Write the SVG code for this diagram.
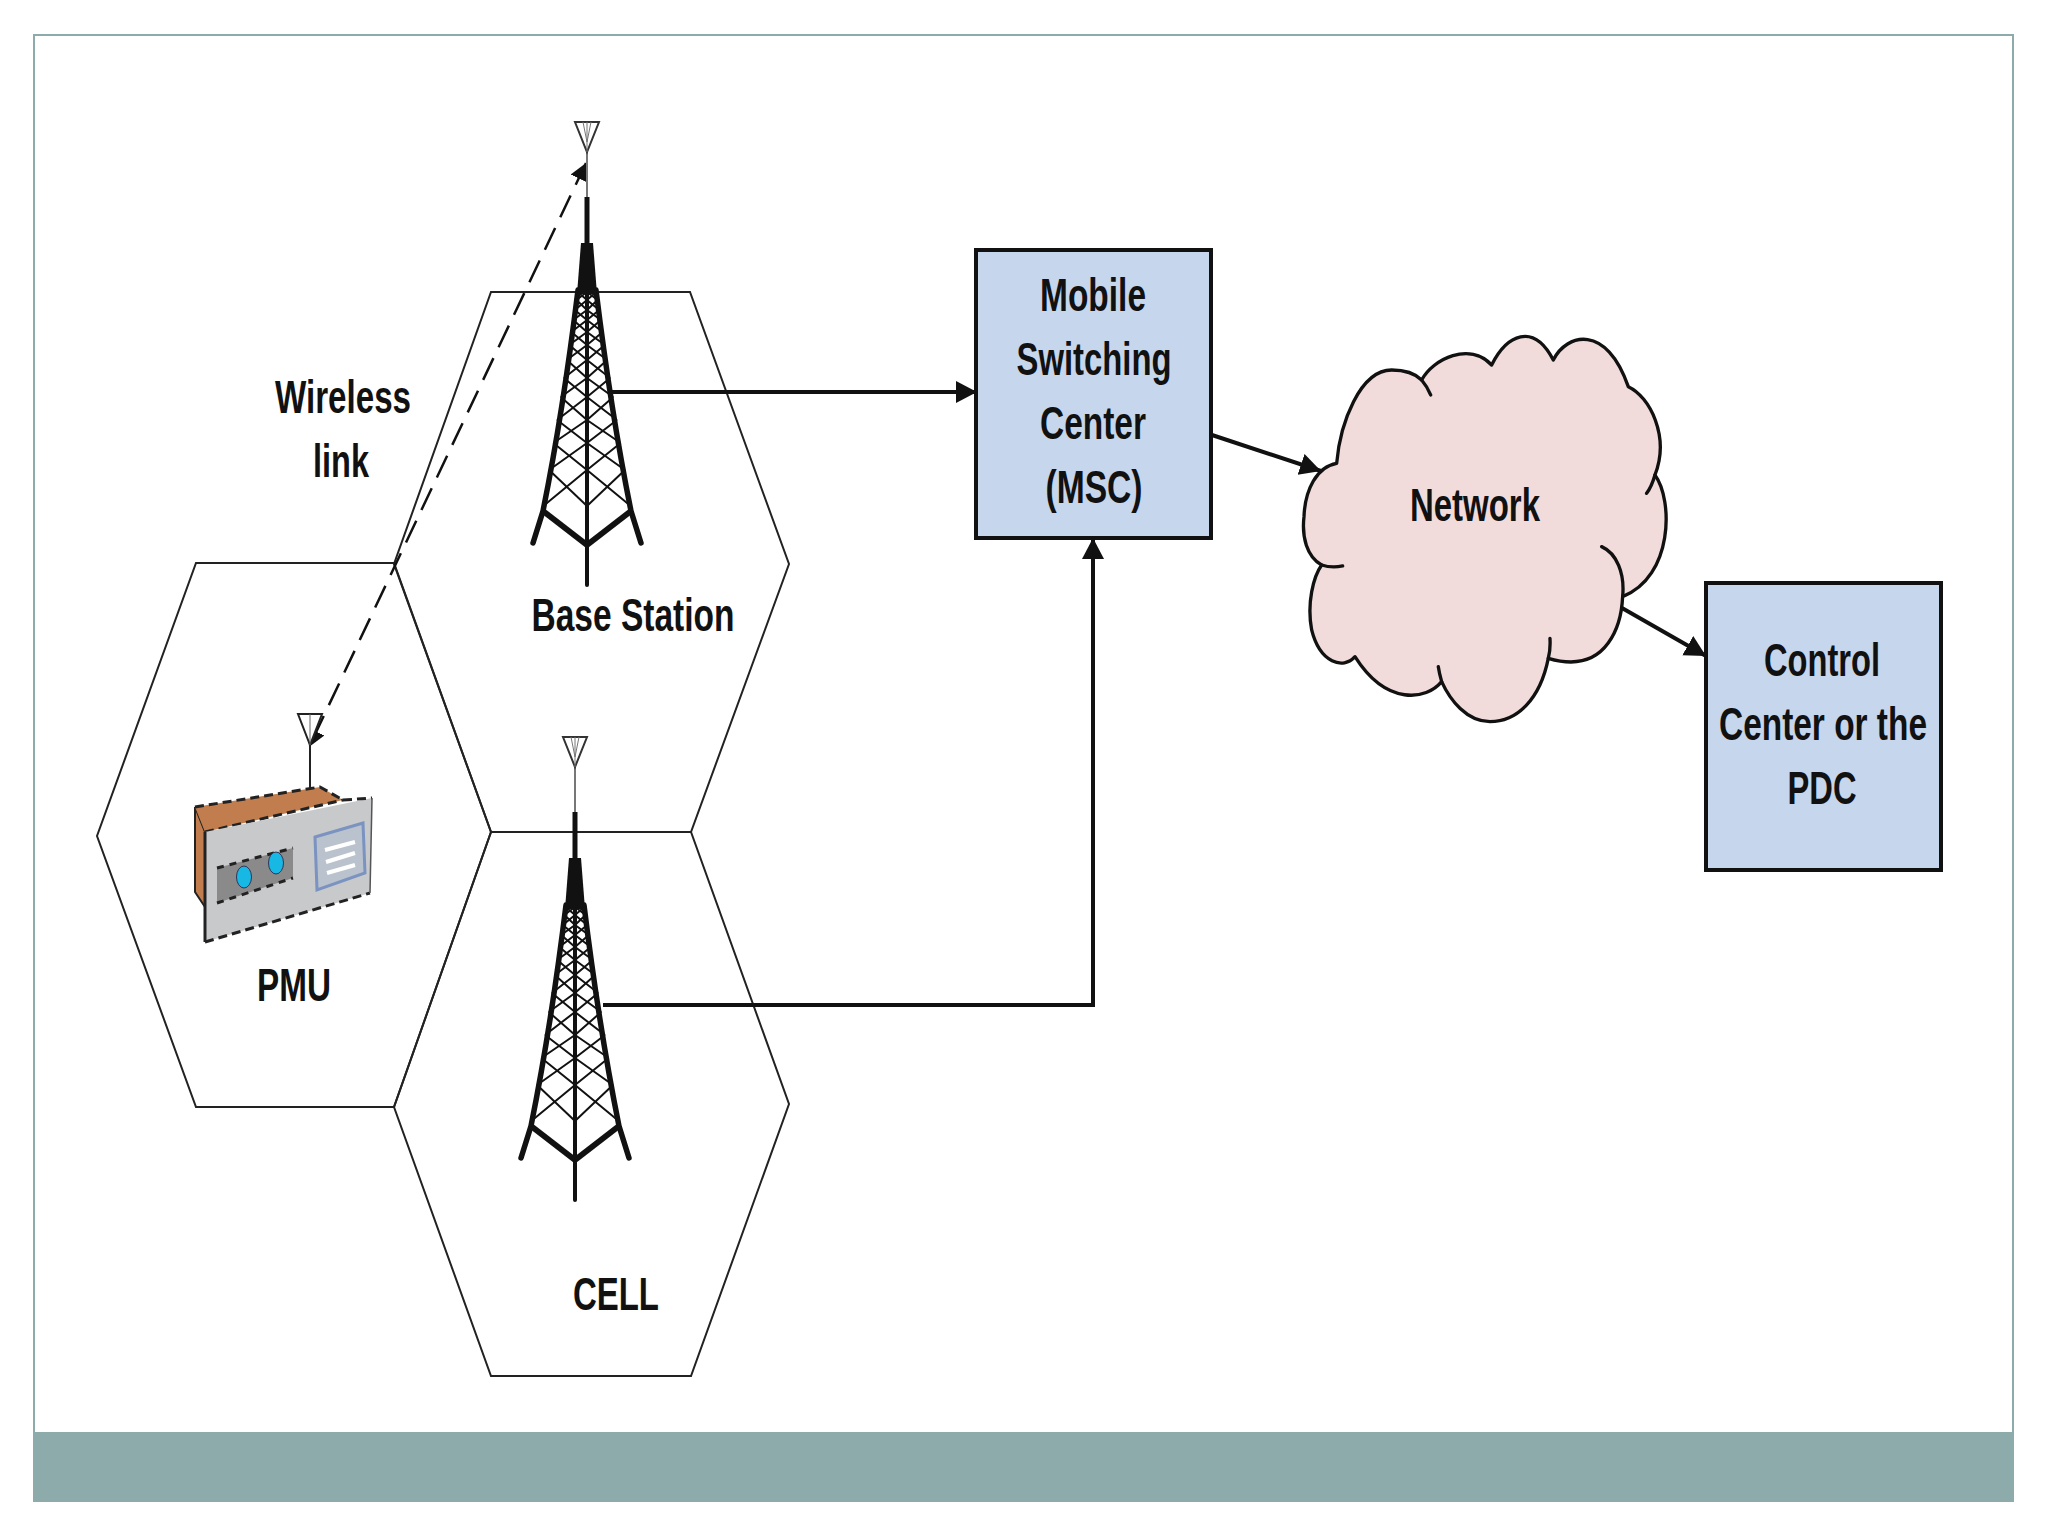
<svg xmlns="http://www.w3.org/2000/svg" xmlns:xlink="http://www.w3.org/1999/xlink" width="2048" height="1536" viewBox="0 0 2048 1536">
<style>
.t{font-family:"Liberation Sans",Arial,sans-serif;font-weight:700;font-size:47px;fill:#111;text-anchor:middle}
.hex{fill:none;stroke:#222;stroke-width:2}
.box{fill:#c6d6ec;stroke:#111;stroke-width:4}
.con{fill:none;stroke:#111;stroke-width:4}
.dash{fill:none;stroke:#111;stroke-width:2.500;stroke-dasharray:24 12}
</style>
<defs>
<marker id="ah" markerUnits="userSpaceOnUse" markerWidth="24" markerHeight="24" refX="21" refY="11" orient="auto-start-reverse"><path d="M0 0L21 11L0 22Z" fill="#111"/></marker>
<marker id="ad" markerUnits="userSpaceOnUse" markerWidth="20" markerHeight="20" refX="17" refY="9" orient="auto-start-reverse"><path d="M0 0L17 9L0 18Z" fill="#111"/></marker>
<g id="lat">
<path fill="none" stroke="#111" stroke-width="2" d="M-43.7 384L0 348M0 384L-37.9 348M-37.9 348L0 321M0 348L-33.6 321M-33.6 321L0 298M0 321L-29.9 298M-29.9 298L0 275M0 298L-26.2 275M-26.2 275L0 256M0 275L-23.1 256M-23.1 256L0 238M0 256L-20.2 238M-20.2 238L0 223M0 238L-17.8 223M-17.8 223L0 210M0 223L-15.7 210M-15.7 210L0 198M0 210L-13.8 198M-13.8 198L0 188M0 198L-12.2 188M-12.2 188L0 178M0 188L-10.6 178M-10.6 178L0 170M0 178L-9.3 170"/>
<path fill="none" stroke="#111" stroke-width="5.500" stroke-linecap="round" d="M-9 168Q-24 290-44 389L-54 421"/>
<path fill="none" stroke="#111" stroke-width="6" d="M-44 389L0 423"/>
</g>
<g id="tower">
<use xlink:href="#lat" href="#lat"/>
<use xlink:href="#lat" href="#lat" transform="scale(-1 1)"/>
<path d="M0 165V463" stroke="#111" stroke-width="4" stroke-linecap="round"/>
<path d="M-6 121H6L10 172H-10Z" fill="#111"/>
<path d="M0 75V121" stroke="#111" stroke-width="5"/>
<path d="M0 30V75" stroke="#777" stroke-width="2"/>
<path d="M-12 0H12L0 30Z" fill="#fff" stroke="#333" stroke-width="2"/>
<path d="M0 0V30M-4 0L0 20M4 0L0 20" stroke="#777" stroke-width="1" fill="none"/>
</g>
</defs>
<rect width="2048" height="1536" fill="#fff"/>
<rect x="34" y="35" width="1979" height="1466" fill="none" stroke="#8cabaa" stroke-width="2"/>
<rect id="band" x="33" y="1432" width="1980" height="69" fill="#8cabaa"/>
<g id="cell-top"><path class="hex" d="M491 292H690L789 564L691 832H491L394 564Z"/></g>
<g id="cell-left"><path class="hex" d="M196 563H394L491 832L394 1107H196L97 836Z"/></g>
<g id="cell-bottom"><path class="hex" d="M491 832H691L789 1104L691 1376H491L394 1107Z"/></g>
<g id="connectors">
<path class="con" d="M610 392H977" marker-end="url(#ah)"/>
<path class="con" d="M603 1005H1093V538" marker-end="url(#ah)"/>
<path class="con" d="M1212 435L1321 471" marker-end="url(#ah)"/>
<path class="con" d="M1622 608L1706 656" marker-end="url(#ah)"/>
<path class="dash" d="M586 163L309 747" marker-start="url(#ad)" marker-end="url(#ad)"/>
</g>
<g id="tower-1"><use xlink:href="#tower" href="#tower" transform="translate(587 122)"/></g>
<g id="tower-2"><use xlink:href="#tower" href="#tower" transform="translate(575 737)"/></g>
<g id="pmu">
<path d="M310 745V788" stroke="#222" stroke-width="2"/>
<path d="M298 714H322L310 745Z" fill="#fff" stroke="#222" stroke-width="2"/>
<path d="M310 714V745" stroke="#666" stroke-width="1"/>
<path d="M195 807L205 832V907L195 892Z" fill="#c17d4e" stroke="#222" stroke-width="2"/>
<path d="M195 807L320 787L343 800L205 832Z" fill="#c17d4e"/>
<path d="M195 807L320 787L343 800M205 832L343 800" fill="none" stroke="#222" stroke-width="3" stroke-dasharray="9 5"/>
<path d="M205 832L372 798L370 893L205 942Z" fill="#c8c9cb"/>
<path d="M343 800L372 798M205 942L370 893" fill="none" stroke="#222" stroke-width="3" stroke-dasharray="9 5"/>
<path d="M205 832V942" fill="none" stroke="#222" stroke-width="3"/>
<path d="M372 798L370 893" fill="none" stroke="#555" stroke-width="1.500"/>
<path d="M217 868L293 848V878L217 903Z" fill="#8a8a8a"/>
<path d="M217 868L293 848M217 903L293 878" fill="none" stroke="#222" stroke-width="3" stroke-dasharray="7 6"/>
<ellipse cx="244" cy="877" rx="7.500" ry="11" fill="#18b8e4" stroke="#335" stroke-width="1"/>
<ellipse cx="276" cy="863" rx="7.500" ry="11" fill="#18b8e4" stroke="#335" stroke-width="1"/>
<path d="M315 837L363 823L365 873L317 890Z" fill="#b9c2cd" stroke="#7b93c0" stroke-width="3"/>
<path d="M325 850L355 842M326 862L355 853M327 873L355 865" stroke="#fff" stroke-width="4" fill="none"/>
</g>
<g id="msc">
<rect class="box" x="976" y="250" width="235" height="288"/>
<text class="t" x="1093" y="311" textLength="106" lengthAdjust="spacingAndGlyphs">Mobile</text>
<text class="t" x="1094" y="375" textLength="155" lengthAdjust="spacingAndGlyphs">Switching</text>
<text class="t" x="1093" y="439" textLength="106" lengthAdjust="spacingAndGlyphs">Center</text>
<text class="t" x="1094" y="503" textLength="97" lengthAdjust="spacingAndGlyphs">(MSC)</text>
</g>
<g id="network">
<g transform="translate(1200 310) scale(.3333)">
<path fill="#f1dcdb" stroke="#111" stroke-width="10" stroke-linejoin="round" d="M410 460C420 340 480 180 575 180C620 180 650 195 665 210C700 145 810 95 875 165C920 75 1000 35 1060 150C1100 70 1220 40 1285 230C1350 260 1410 380 1365 495C1420 570 1420 800 1268 860C1265 930 1230 1100 1045 1045C1020 1170 950 1235 870 1235C800 1235 750 1170 725 1115C680 1170 560 1190 465 1040C430 1080 360 1060 335 960C320 880 340 800 365 765C320 740 305 680 312 620C315 540 350 470 410 460Z"/>
<path fill="none" stroke="#111" stroke-width="10" stroke-linecap="round" d="M665 210Q682 230 692 255M1365 495Q1355 530 1340 550M1205 710C1250 730 1275 790 1268 860M1045 1045Q1052 1020 1050 985M725 1115Q718 1090 715 1070M365 765Q395 775 428 768"/>
</g>
<text class="t" x="1475" y="521" textLength="130" lengthAdjust="spacingAndGlyphs">Network</text>
</g>
<g id="control-center">
<rect class="box" x="1706" y="583" width="235" height="287"/>
<text class="t" x="1822" y="676" textLength="116" lengthAdjust="spacingAndGlyphs">Control</text>
<text class="t" x="1823" y="740" textLength="208" lengthAdjust="spacingAndGlyphs">Center or the</text>
<text class="t" x="1822" y="804" textLength="69" lengthAdjust="spacingAndGlyphs">PDC</text>
</g>
<g id="labels">
<text class="t" x="343" y="413" textLength="136" lengthAdjust="spacingAndGlyphs">Wireless</text>
<text class="t" x="341" y="477" textLength="56" lengthAdjust="spacingAndGlyphs">link</text>
<text class="t" x="633" y="631" textLength="203" lengthAdjust="spacingAndGlyphs">Base Station</text>
<text class="t" x="294" y="1001" textLength="74" lengthAdjust="spacingAndGlyphs">PMU</text>
<text class="t" x="616" y="1310" textLength="86" lengthAdjust="spacingAndGlyphs">CELL</text>
</g>
</svg>
